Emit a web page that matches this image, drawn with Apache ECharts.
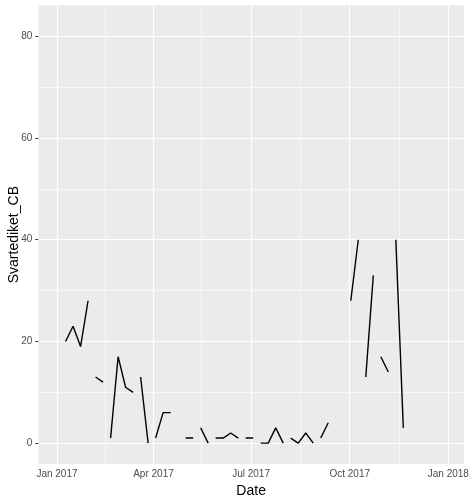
<!DOCTYPE html>
<html>
<head>
<meta charset="utf-8">
<script src="https://cdn.jsdelivr.net/npm/echarts@6/dist/echarts.min.js"></script>
<style>html,body{margin:0;padding:0;background:#fff}#c{width:474px;height:500px}</style>
</head>
<body>
<div id="c"></div>
<script>
// Weekly readings (null = missing reading, breaks the line)
const dates = [
  '2017-01-09','2017-01-16','2017-01-23','2017-01-30','2017-02-02',
  '2017-02-06','2017-02-13','2017-02-16',
  '2017-02-20','2017-02-27','2017-03-06','2017-03-13','2017-03-16',
  '2017-03-20','2017-03-27','2017-03-30',
  '2017-04-03','2017-04-10','2017-04-17','2017-04-24',
  '2017-05-01','2017-05-08','2017-05-11',
  '2017-05-15','2017-05-22','2017-05-25',
  '2017-05-29','2017-06-05','2017-06-12','2017-06-19','2017-06-22',
  '2017-06-26','2017-07-03','2017-07-06',
  '2017-07-10','2017-07-17','2017-07-24','2017-07-31','2017-08-03',
  '2017-08-07','2017-08-14','2017-08-21','2017-08-28','2017-08-31',
  '2017-09-04','2017-09-11','2017-09-18','2017-09-25',
  '2017-10-02','2017-10-09','2017-10-12',
  '2017-10-16','2017-10-23','2017-10-26',
  '2017-10-30','2017-11-06','2017-11-09',
  '2017-11-13','2017-11-20'
];
const values = [
  20, 23, 19, 28, null,
  13, 12, null,
  1, 17, 11, 10, null,
  13, 0, null,
  1, 6, 6, null,
  1, 1, null,
  3, 0, null,
  1, 1, 2, 1, null,
  1, 1, null,
  0, 0, 3, 0, null,
  1, 0, 2, 0, null,
  1, 4, null, null,
  28, 40, null,
  13, 33, null,
  17, 14, null,
  40, 3
];
const xTickDates = ['2017-01-01','2017-04-01','2017-07-01','2017-10-01','2018-01-01'];
const xTickLabels = ['Jan 2017','Apr 2017','Jul 2017','Oct 2017','Jan 2018'];
const xMinorDates = ['2017-02-15','2017-05-16','2017-08-16','2017-11-16'];
const yTicks = [0, 20, 40, 60, 80];
const yMinor = [10, 30, 50, 70];

function ts(s){ const p = s.split('-').map(Number); return Date.UTC(p[0], p[1]-1, p[2]); }
const xTickTs = xTickDates.map(ts);
const xMin = Date.UTC(2016, 11, 14, 14);
const xMax = Date.UTC(2018, 0, 15, 14);

const seriesData = dates.map((d, i) => [ts(d), values[i] === null ? '-' : values[i]]);

const gridLines = [];
xMinorDates.forEach(d => gridLines.push({xAxis: ts(d), lineStyle: {width: 0.6}}));
yMinor.forEach(v => gridLines.push({yAxis: v, lineStyle: {width: 0.6}}));
xTickTs.forEach(t => gridLines.push({xAxis: t, lineStyle: {width: 1.2}}));
yTicks.forEach(v => gridLines.push({yAxis: v, lineStyle: {width: 1.2}}));

const font = '"Liberation Sans", Arial, Helvetica, sans-serif';
const chart = echarts.init(document.getElementById('c'), null, {renderer: 'canvas'});
chart.setOption({
  animation: false,
  grid: {left: 38.3, right: 10, top: 5.3, bottom: 36, show: true, backgroundColor: '#EBEBEB', borderWidth: 0,
    containLabel: false, outerBoundsMode: 'none'},
  xAxis: {
    type: 'value', min: xMin, max: xMax, scale: true,
    name: 'Date', nameLocation: 'middle', nameGap: 17,
    nameTextStyle: {color: '#000', fontSize: 14, fontFamily: font},
    axisLine: {show: false},
    axisTick: {show: true, length: 3, lineStyle: {color: '#333333', width: 1}, customValues: xTickTs},
    axisLabel: {color: '#4D4D4D', fontSize: 10, fontFamily: font, margin: 5, customValues: xTickTs,
      showMinLabel: true, showMaxLabel: true, hideOverlap: false,
      formatter: function(v){ const i = xTickTs.indexOf(v); return i >= 0 ? xTickLabels[i] : ''; }},
    splitLine: {show: false}
  },
  yAxis: {
    type: 'value', min: -4.1, max: 86.1,
    name: 'Svartediket_CB', nameLocation: 'middle', nameGap: 17, nameMoveOverlap: false,
    nameTextStyle: {color: '#000', fontSize: 14, fontFamily: font},
    axisLine: {show: false},
    axisTick: {show: true, length: 3, lineStyle: {color: '#333333', width: 1}, customValues: yTicks},
    axisLabel: {color: '#4D4D4D', fontSize: 10, fontFamily: font, margin: 6, customValues: yTicks},
    splitLine: {show: false}
  },
  series: [
    {
      type: 'line', data: [], z: 1, silent: true,
      markLine: {z: 1, silent: true, symbol: ['none','none'], label: {show: false}, animation: false,
        lineStyle: {color: '#FFFFFF', type: 'solid'}, emphasis: {disabled: true}, data: gridLines}
    },
    {
      type: 'line', data: seriesData, z: 10, showSymbol: false, connectNulls: false,
      lineStyle: {color: '#000000', width: 1.4}, itemStyle: {color: '#000'}, silent: true
    }
  ]
});
</script>
</body>
</html>
